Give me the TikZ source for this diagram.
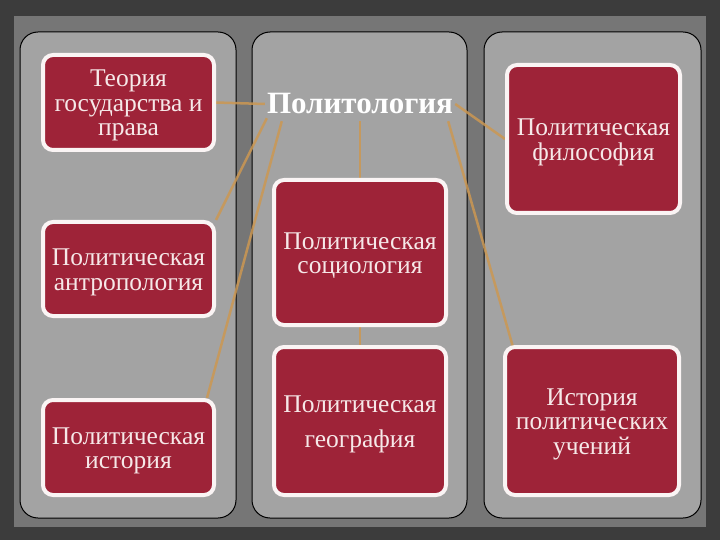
\documentclass[tikz,border=0pt]{standalone}
\usepackage{fontspec}
\setmainfont{Liberation Serif}
\usetikzlibrary{calc}
\definecolor{boxred}{RGB}{158,35,56}
\definecolor{boxtext}{RGB}{246,232,232}
\definecolor{boxedge}{RGB}{250,244,244}
\definecolor{linktan}{RGB}{204,152,82}
\definecolor{colfill}{RGB}{163,163,163}
\definecolor{midgrey}{RGB}{118,118,118}
\definecolor{darkbg}{RGB}{60,60,60}
\pgfdeclarelayer{bglayer}
\pgfdeclarelayer{linklayer}
\pgfsetlayers{bglayer,linklayer,main}
\newcommand\topictext[1]{\raisebox{-4pt}[\height][\depth]{\begin{tabular}{@{}c@{}}#1\end{tabular}}}
\begin{document}
\begin{tikzpicture}[x=1pt,y=-1pt,
  column/.style={draw=black, line width=1pt, fill=colfill, rounded corners=18pt},
  topic/.style={draw=boxedge, line width=4pt, fill=boxred, rounded corners=10pt,
    text=boxtext, inner sep=2pt,
    font=\fontsize{25.5}{24.5}\selectfont},
  link/.style={draw=linktan, line width=2.5pt, opacity=0.85},
  title/.style={text=white, font=\fontsize{31}{31}\selectfont\bfseries,
    minimum width=190pt, minimum height=34pt, inner sep=0pt}]
\useasboundingbox (0,0) rectangle (720,540);
\begin{pgfonlayer}{bglayer}
  \fill[darkbg] (0,0) rectangle (720,540);
  \fill[midgrey] (14,16) rectangle (706,527);
  \draw[column] (20,32) rectangle (236,518);
  \draw[column] (252,32) rectangle (467,518);
  \draw[column] (484,32) rectangle (701,518);
\end{pgfonlayer}

\node[topic, minimum width=171pt, minimum height=95pt] (teor) at (128.5,102.5) {\topictext{Теория\\государства и\\права}};
\node[topic, minimum width=171pt, minimum height=94pt] (antr) at (128.5,269) {\topictext{Политическая\\антропология}};
\node[topic, minimum width=171pt, minimum height=95pt] (hist) at (128.5,447.5) {\topictext{Политическая\\история}};
\node[topic, minimum width=172pt, minimum height=145pt] (soc) at (360,252.5) {\topictext{Политическая\\социология}};
\node[topic, minimum width=172pt, minimum height=148pt] (geo) at (360,421) {\topictext{Политическая\\[10pt]география}};
\node[topic, minimum width=173pt, minimum height=148pt] (phil) at (593.5,139) {\topictext{Политическая\\философия}};
\node[topic, minimum width=174pt, minimum height=148pt] (uch) at (592,421) {\topictext{История\\политических\\учений}};
\node[title] (polit) at (360,104) {Политология};

\begin{pgfonlayer}{linklayer}
  \draw[link] (polit.west) -- (teor.east);
  \draw[link] (polit.east) -- (phil.west);
  \draw[link] (polit.south) -- (soc.north);
  \draw[link] ($(polit.south west)+(2,-3)$) -- (antr.north east);
  \draw[link] ($(polit.south west)+(17,0)$) -- ($(hist.north east)+(-9,0)$);
  \draw[link] ($(polit.south east)+(-7,0)$) -- ($(uch.north west)+(10,2)$);
  \draw[link] (soc.south) -- (geo.north);
\end{pgfonlayer}
\end{tikzpicture}
\end{document}
